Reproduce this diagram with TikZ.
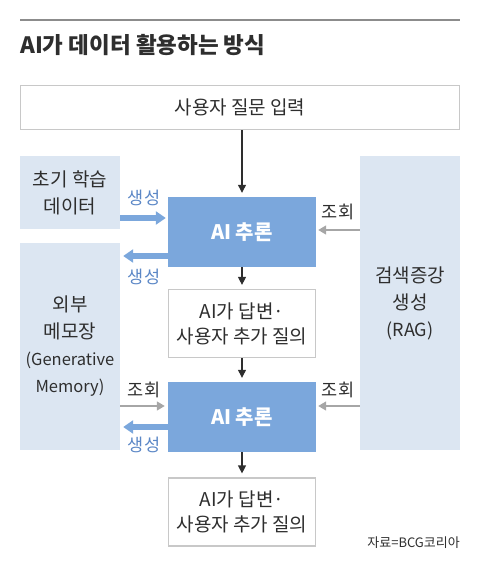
\documentclass[tikz,border=0pt]{standalone}
\usepackage{fontspec}
\setmainfont{Noto Sans CJK KR}
\usetikzlibrary{arrows.meta}
\usetikzlibrary{positioning}
\definecolor{boxline}{HTML}{C8C8C8}
\definecolor{srcfill}{HTML}{DCE6F2}
\definecolor{aifill}{HTML}{7BA7DC}
\definecolor{genblue}{HTML}{5B87C6}
\definecolor{lookgray}{HTML}{A6A6A6}
\definecolor{inkgray}{HTML}{2E2E2E}
\definecolor{rulegray}{HTML}{8C8C8C}
\tikzset{
    textbox/.style={
           rectangle,
           draw=boxline, line width=1.2pt,
           fill=white,
           text=inkgray,
           inner sep=0pt,
           align=center,
           font=\fontsize{19pt}{25pt}\selectfont,
           },
    srcbox/.style={
           rectangle,
           fill=srcfill,
           text=inkgray,
           minimum width=100pt,
           inner sep=0pt,
           align=center,
           font=\fontsize{19pt}{27pt}\selectfont,
           },
    aibox/.style={
           rectangle,
           fill=aifill,
           text=white,
           minimum width=148pt,
           minimum height=70pt,
           inner sep=0pt,
           font=\fontsize{20pt}{24pt}\selectfont\bfseries,
           },
    flowarrow/.style={-{Triangle[width=8pt,length=8pt]}, draw=inkgray, line width=1.2pt, shorten >=4pt},
    genarrow/.style={-{Triangle[width=13pt,length=10pt]}, draw=aifill, line width=6.5pt},
    lookarrow/.style={-{Triangle[width=9pt,length=8pt]}, draw=lookgray, line width=1.5pt},
    genlabel/.style={text=genblue, inner sep=0pt, font=\fontsize{17.5pt}{20pt}\selectfont},
    looklabel/.style={text=inkgray, inner sep=0pt, font=\fontsize{17.5pt}{20pt}\selectfont},
}
\newcommand{\latinline}[2][16.5pt]{{\fontsize{#1}{27pt}\selectfont #2}}

\begin{document}
\begin{tikzpicture}[x=1pt,y=1pt]
        \useasboundingbox (0,0) rectangle (480,-570);

        % rule and title on top
        \draw[rulegray, line width=1.5pt] (20,-20) -- (460,-20);
        \node[anchor=base west, inner sep=0pt, text=inkgray,
            font=\fontsize{22.5pt}{26pt}\selectfont\bfseries] (TITLE) at (20,-53)
        {AI가 데이터 활용하는 방식};

        % BOX INPUT
        \node[textbox,
            minimum width=439pt,
            minimum height=44pt] (INPUT) at (240,-107.5)
        {사용자 질문 입력};

        % BOX AI (first pass)
        \node[aibox,
            below of=INPUT,
            xshift=2pt,
            node distance=124.5pt,
            anchor=center] (AI1)
        {AI 추론};

        % BOX answer (first pass)
        \node[textbox,
            minimum width=147pt,
            minimum height=68pt,
            below of=AI1,
            node distance=91.5pt,
            anchor=center] (ANSWER1)
        {AI가 답변·\\사용자 추가 질의};

        % BOX AI (second pass)
        \node[aibox,
            below of=ANSWER1,
            node distance=93.5pt,
            anchor=center] (AI2)
        {AI 추론};

        % BOX answer (second pass)
        \node[textbox,
            minimum width=147pt,
            minimum height=68pt,
            below of=AI2,
            node distance=95pt,
            anchor=center] (ANSWER2)
        {AI가 답변·\\사용자 추가 질의};

        % SOURCE training data
        \node[srcbox,
            minimum height=73pt,
            left of=AI1,
            yshift=39.5pt,
            node distance=172pt,
            anchor=center] (TRAIN)
        {초기 학습\\데이터};

        % SOURCE generative memory
        \node[srcbox,
            minimum height=207pt,
            below of=TRAIN,
            node distance=154pt,
            anchor=center] (MEMORY)
        {외부\\메모장\\\latinline{(Generative}\\\latinline{Memory)}};

        % SOURCE RAG
        \node[srcbox,
            minimum height=294pt,
            right of=AI1,
            yshift=-71pt,
            node distance=168pt,
            anchor=center] (RAG)
        {검색증강\\생성\\\latinline[18pt]{(RAG)}};

        % source
        \node[anchor=base east, inner sep=0pt, text=inkgray,
            font=\fontsize{13pt}{15pt}\selectfont] (NOTE) at (460,-547)
        {자료=BCG코리아};

        % points where the side arrows meet the AI boxes
        \coordinate (gen1) at ([yshift=14pt]AI1.west);
        \coordinate (gen2) at ([yshift=-24pt]AI1.west);
        \coordinate (look1) at ([yshift=2pt]AI1.east);
        \coordinate (look2) at ([yshift=11pt]AI2.west);
        \coordinate (look3) at ([yshift=11pt]AI2.east);
        \coordinate (gen3) at ([yshift=-10pt]AI2.west);

        % main flow
        \draw[flowarrow] (INPUT.south -| AI1.north) -- (AI1.north);
        \draw[flowarrow] (AI1.south) -- (ANSWER1.north);
        \draw[flowarrow] (ANSWER1.south) -- (AI2.north);
        \draw[flowarrow] (AI2.south) -- (ANSWER2.north);

        % generate / look up
        \draw[genarrow, shorten >=2pt] (gen1 -| TRAIN.east) -- node[genlabel, above=9pt]{생성} (gen1);
        \draw[genarrow, shorten >=3pt] (gen2) -- node[genlabel, below=10pt]{생성} (gen2 -| MEMORY.east);
        \draw[lookarrow, shorten >=2pt] (look1 -| RAG.west) -- node[looklabel, above=9pt]{조회} (look1);
        \draw[lookarrow, shorten >=3pt] (look2 -| MEMORY.east) -- node[looklabel, above=7pt]{조회} (look2);
        \draw[lookarrow, shorten >=2pt] (look3 -| RAG.west) -- node[looklabel, above=7pt]{조회} (look3);
        \draw[genarrow, shorten >=3pt] (gen3) -- node[genlabel, below=7pt]{생성} (gen3 -| MEMORY.east);

\end{tikzpicture}
\end{document}
